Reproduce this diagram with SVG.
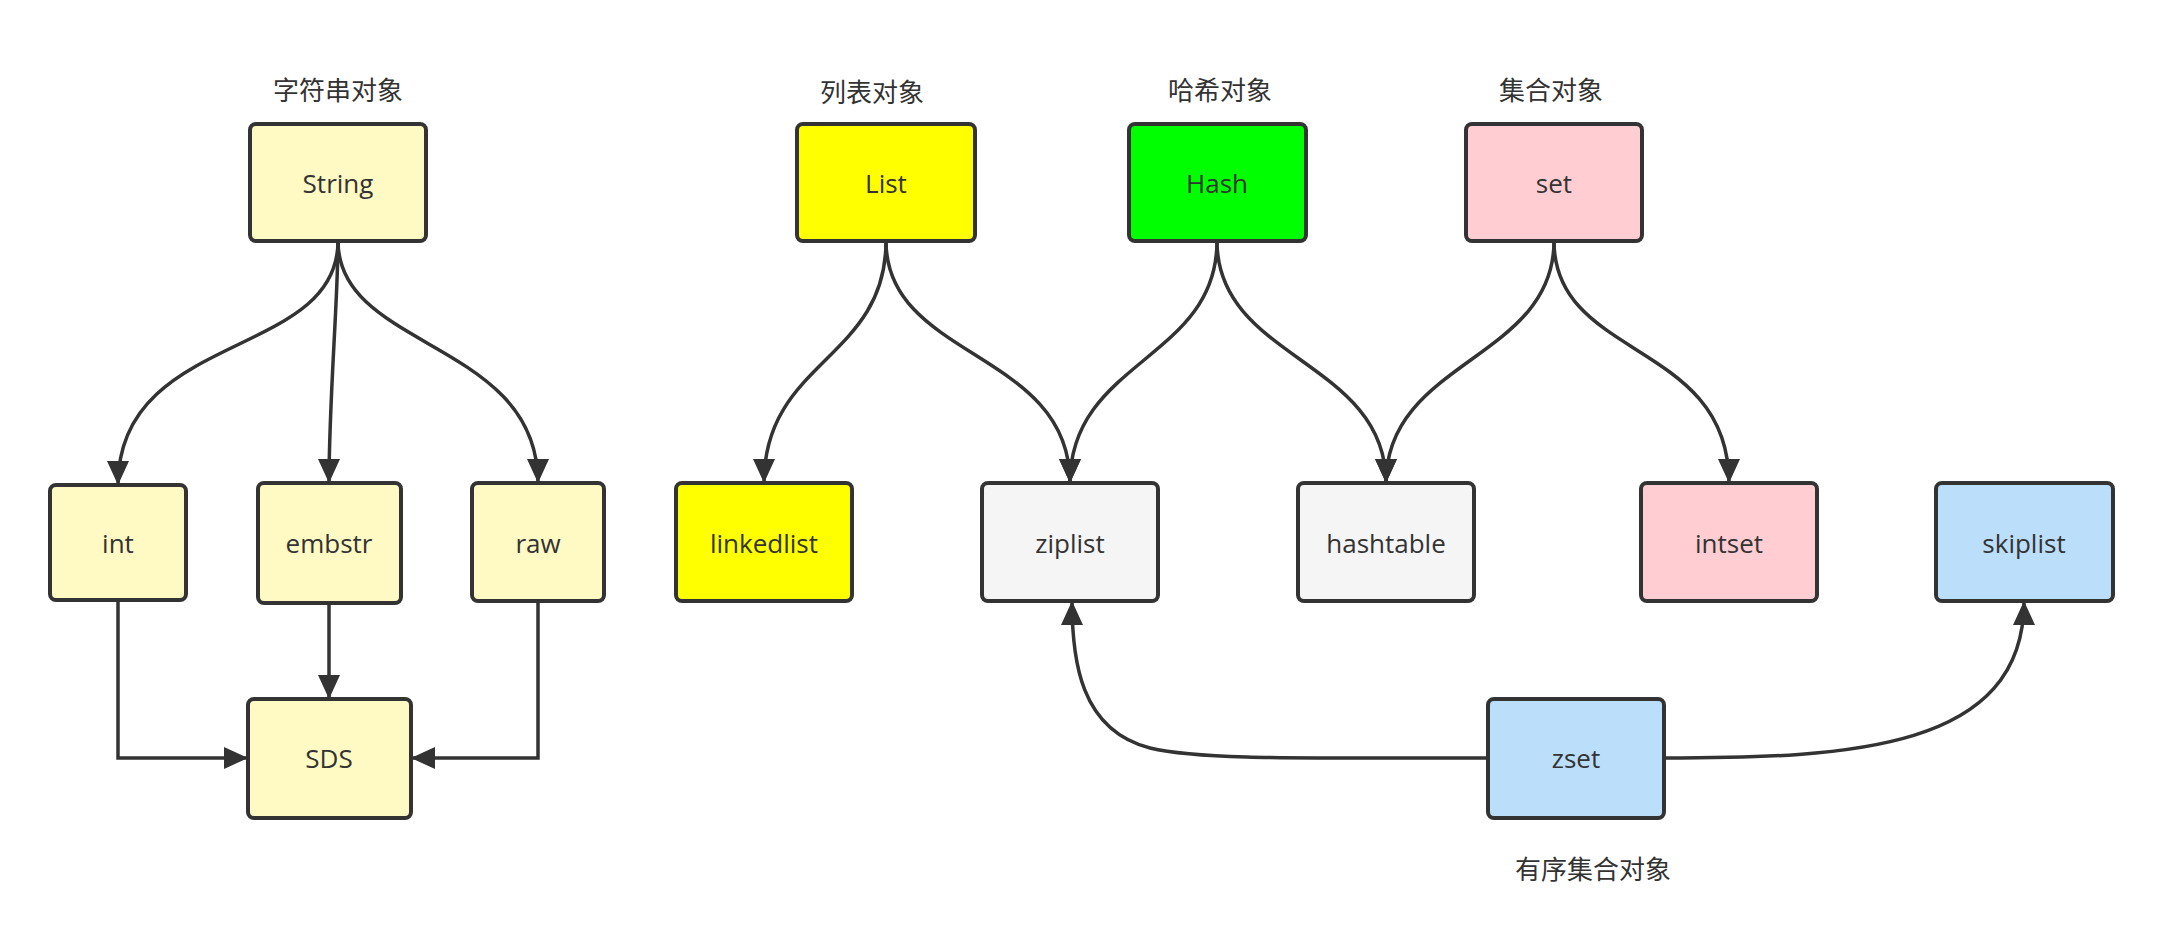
<svg xmlns="http://www.w3.org/2000/svg" width="2162" height="952" viewBox="0 0 2162 952">
<style>
.n{stroke:#333;stroke-width:4}
.t{font-family:"Open Sans","Noto Sans","Noto Sans CJK SC",sans-serif;font-size:26px;fill:#333;text-anchor:middle;dominant-baseline:central}
.c{fill:none;stroke:#333;stroke-width:3.5}
</style>
<defs>
<marker id="a" markerUnits="userSpaceOnUse" markerWidth="24" markerHeight="22" refX="24" refY="11" orient="auto"><path d="M0,0 L24,11 L0,22 Z" fill="#333"/></marker>
</defs>
<rect width="2162" height="952" fill="#fff"/>
<g id="labels">
<text class="t" x="338" y="90">字符串对象</text>
<text class="t" x="872" y="92">列表对象</text>
<text class="t" x="1220" y="90">哈希对象</text>
<text class="t" x="1551" y="90">集合对象</text>
<text class="t" x="1593" y="869">有序集合对象</text>
</g>
<g id="connectors">
<path class="c" marker-end="url(#a)" d="M338,241 C338,360 118,330 118,485"/>
<path class="c" marker-end="url(#a)" d="M338,241 C338,300 329,400 329,483"/>
<path class="c" marker-end="url(#a)" d="M338,241 C338,350 538,340 538,483"/>
<path class="c" marker-end="url(#a)" d="M329,603 L329,699"/>
<path class="c" marker-end="url(#a)" d="M118,600 L118,758 L248,758"/>
<path class="c" marker-end="url(#a)" d="M538,601 L538,758 L411,758"/>
<path class="c" marker-end="url(#a)" d="M886,241 C886,360 764,360 764,483"/>
<path class="c" marker-end="url(#a)" d="M886,241 C886,360 1070,350 1070,483"/>
<path class="c" marker-end="url(#a)" d="M1217,241 C1217,360 1070,360 1070,483"/>
<path class="c" marker-end="url(#a)" d="M1217,241 C1217,360 1386,360 1386,483"/>
<path class="c" marker-end="url(#a)" d="M1554,241 C1554,360 1386,360 1386,483"/>
<path class="c" marker-end="url(#a)" d="M1554,241 C1554,360 1729,340 1729,483"/>
<path class="c" marker-end="url(#a)" d="M1488,758 C1300,758 1200,760 1150,748 C1080,730 1072,660 1072,601"/>
<path class="c" marker-end="url(#a)" d="M1664,758 C1850,758 2024,750 2024,601"/>
</g>
<g id="String"><rect class="n" x="250" y="124" width="176" height="117" rx="6" fill="#fff9c4"/><text class="t" x="338" y="183">String</text></g>
<g id="int"><rect class="n" x="50" y="485" width="136" height="115" rx="6" fill="#fff9c4"/><text class="t" x="118" y="543">int</text></g>
<g id="embstr"><rect class="n" x="258" y="483" width="143" height="120" rx="6" fill="#fff9c4"/><text class="t" x="329" y="543">embstr</text></g>
<g id="raw"><rect class="n" x="472" y="483" width="132" height="118" rx="6" fill="#fff9c4"/><text class="t" x="538" y="543">raw</text></g>
<g id="SDS"><rect class="n" x="248" y="699" width="163" height="119" rx="6" fill="#fff9c4"/><text class="t" x="329" y="758">SDS</text></g>
<g id="List"><rect class="n" x="797" y="124" width="178" height="117" rx="6" fill="#ffff00"/><text class="t" x="886" y="183">List</text></g>
<g id="Hash"><rect class="n" x="1129" y="124" width="177" height="117" rx="6" fill="#00ff00"/><text class="t" x="1217" y="183">Hash</text></g>
<g id="set"><rect class="n" x="1466" y="124" width="176" height="117" rx="6" fill="#ffcdd2"/><text class="t" x="1554" y="183">set</text></g>
<g id="linkedlist"><rect class="n" x="676" y="483" width="176" height="118" rx="6" fill="#ffff00"/><text class="t" x="764" y="543">linkedlist</text></g>
<g id="ziplist"><rect class="n" x="982" y="483" width="176" height="118" rx="6" fill="#f5f5f5"/><text class="t" x="1070" y="543">ziplist</text></g>
<g id="hashtable"><rect class="n" x="1298" y="483" width="176" height="118" rx="6" fill="#f5f5f5"/><text class="t" x="1386" y="543">hashtable</text></g>
<g id="intset"><rect class="n" x="1641" y="483" width="176" height="118" rx="6" fill="#ffcdd2"/><text class="t" x="1729" y="543">intset</text></g>
<g id="skiplist"><rect class="n" x="1936" y="483" width="177" height="118" rx="6" fill="#bbdefb"/><text class="t" x="2024" y="543">skiplist</text></g>
<g id="zset"><rect class="n" x="1488" y="699" width="176" height="119" rx="6" fill="#bbdefb"/><text class="t" x="1576" y="758">zset</text></g>
</svg>
